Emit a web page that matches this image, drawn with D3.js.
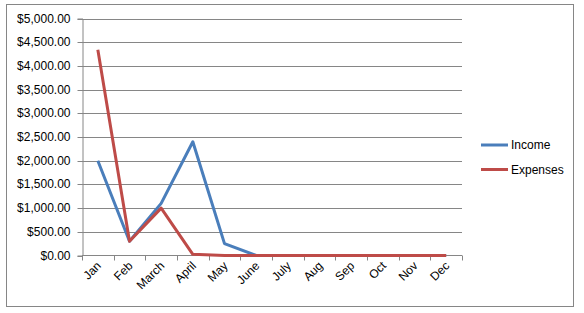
<!DOCTYPE html>
<html>
<head>
<meta charset="utf-8">
<script src="https://cdn.jsdelivr.net/npm/d3@7"></script>
<style>
  body { margin: 0; background: #fff; }
  text { font-family: "Liberation Sans", Arial, sans-serif; fill: #000; }
</style>
</head>
<body>
<script>
// chart data
var months = ["Jan", "Feb", "March", "April", "May", "June", "July", "Aug", "Sep", "Oct", "Nov", "Dec"];
var income = [2000, 300, 1100, 2400, 250, 0, 0, 0, 0, 0, 0, 0];
var expenses = [4340, 300, 1000, 25, 0, 0, 0, 0, 0, 0, 0, 0];
var yTicks = [0, 500, 1000, 1500, 2000, 2500, 3000, 3500, 4000, 4500, 5000];
var seriesNames = ["Income", "Expenses"];
var seriesColors = ["#4a7ebb", "#be4b48"];

var W = 584, H = 313;
var plot = {left: 82, right: 462, top: 18.5, bottom: 255.5};

var svg = d3.select("body").append("svg")
  .attr("width", W)
  .attr("height", H);

// outer frame
svg.append("rect")
  .attr("x", 6.5).attr("y", 4.5)
  .attr("width", 567).attr("height", 302)
  .attr("fill", "#fff")
  .attr("stroke", "#868686");

var x = d3.scaleBand()
  .domain(months)
  .range([plot.left, plot.right]);

var y = d3.scaleLinear()
  .domain([0, 5000])
  .range([plot.bottom, plot.top]);

// gridlines
svg.append("g")
  .selectAll("line")
  .data(yTicks.slice(1))
  .enter().append("line")
    .attr("x1", plot.left).attr("x2", plot.right)
    .attr("y1", function(d) { return Math.round(y(d)) + 0.5 })
    .attr("y2", function(d) { return Math.round(y(d)) + 0.5 })
    .attr("stroke", "#868686");

// y axis
var yAxis = svg.append("g")
  .attr("transform", "translate(" + (plot.left + 0.5) + ",0)")
  .call(d3.axisLeft(y).tickValues(yTicks).tickSize(5).tickPadding(7)
    .tickFormat(function(d) { return "$" + d3.format(",.2f")(d) }));
yAxis.selectAll("line").attr("stroke", "#868686")
  .attr("transform", function() { return null });
yAxis.selectAll(".tick").attr("transform", function(d) { return "translate(0," + (Math.round(y(d)) + 0.5) + ")" });
yAxis.select(".domain").attr("stroke", "#868686");
yAxis.selectAll("text").style("font-size", "12px").style("font-family", "'Liberation Sans', Arial, sans-serif");

// x axis
var xAxis = svg.append("g")
  .attr("transform", "translate(0," + plot.bottom + ")");
xAxis.append("line")
  .attr("x1", plot.left).attr("x2", plot.right)
  .attr("y1", 0).attr("y2", 0)
  .attr("stroke", "#868686");
var bounds = months.map(function(m) { return x(m) }).concat([plot.right]);
xAxis.selectAll(".xtick")
  .data(bounds)
  .enter().append("line")
    .attr("x1", function(d) { return Math.round(d) + 0.5 })
    .attr("x2", function(d) { return Math.round(d) + 0.5 })
    .attr("y1", 0).attr("y2", 5)
    .attr("stroke", "#868686");
xAxis.selectAll(".xlab")
  .data(months)
  .enter().append("text")
    .attr("text-anchor", "end")
    .style("font-size", "12px")
    .attr("transform", function(d) {
      var cx = x(d) + x.bandwidth() / 2 + 4;
      return "translate(" + cx + ",11) rotate(-45)";
    })
    .text(function(d) { return d });

// lines
var line = d3.line()
  .x(function(d, i) { return x(months[i]) + x.bandwidth() / 2 })
  .y(function(d) { return y(d) });

[income, expenses].forEach(function(vals, k) {
  svg.append("path")
    .datum(vals)
    .attr("fill", "none")
    .attr("stroke", seriesColors[k])
    .attr("stroke-width", 3)
    .attr("stroke-linejoin", "round")
    .attr("d", line);
});

// legend
var legend = svg.append("g");
seriesNames.forEach(function(name, k) {
  var ly = 145 + k * 24.5;
  legend.append("line")
    .attr("x1", 481).attr("x2", 508)
    .attr("y1", ly).attr("y2", ly)
    .attr("stroke", seriesColors[k])
    .attr("stroke-width", 3);
  legend.append("text")
    .attr("x", 511).attr("y", ly + 4)
    .style("font-size", "12px")
    .text(name);
});
</script>
</body>
</html>
